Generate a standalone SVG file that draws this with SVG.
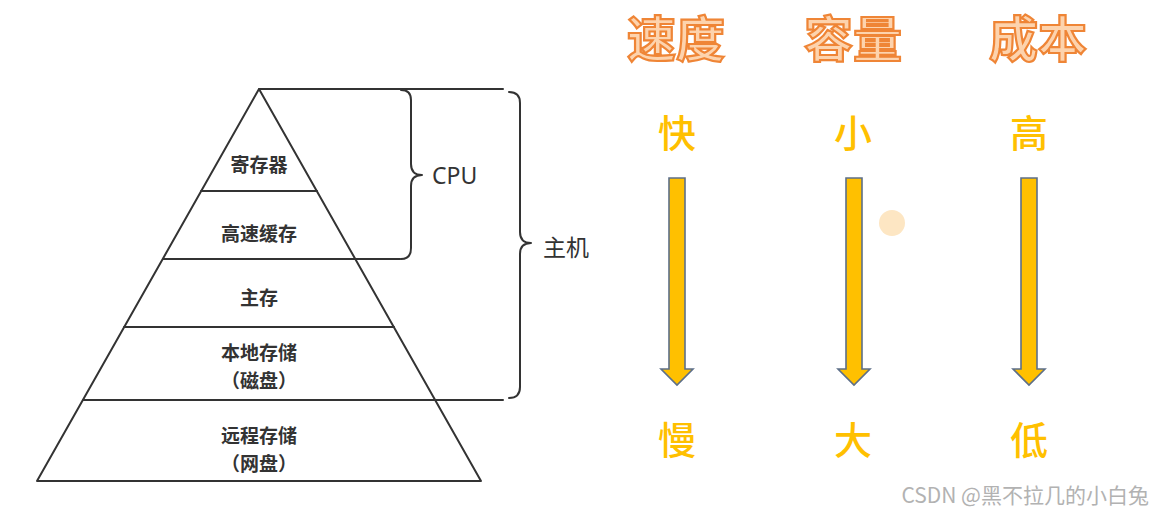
<svg xmlns="http://www.w3.org/2000/svg" width="1154" height="514" viewBox="0 0 1154 514">
<style>
.ln{stroke:#333;stroke-width:2;fill:none;stroke-linejoin:round;stroke-linecap:round}
.lbl{font-family:"Noto Sans CJK SC","Noto Sans",sans-serif;font-size:19px;font-weight:700;fill:#333;text-anchor:middle;dominant-baseline:central}
.side{font-family:"Noto Sans","Noto Sans CJK SC",sans-serif;font-size:23px;fill:#333;dominant-baseline:central}
.head{font-family:"Noto Sans CJK SC",sans-serif;font-size:49px;font-weight:700;fill:#fdd3ad;stroke:#ef8536;stroke-width:2.2;text-anchor:middle;dominant-baseline:central}
.val{font-family:"Noto Sans CJK SC",sans-serif;font-size:38px;font-weight:500;fill:#ffc000;text-anchor:middle;dominant-baseline:central}
.arr{fill:#ffc000;stroke:#5d6f88;stroke-width:1.6;stroke-linejoin:miter}
.wm{font-family:"Noto Sans CJK SC","Liberation Sans",sans-serif;font-size:21px;fill:#b2b2b2;text-anchor:end}
</style>
<rect width="1154" height="514" fill="#fff"/>
<g id="connectors">
<path class="ln" d="M259,89 L37,481 L481,481 Z"/>
<line class="ln" x1="259" y1="89" x2="503" y2="89"/>
<line class="ln" x1="201" y1="191" x2="317" y2="191"/>
<line class="ln" x1="163" y1="259" x2="400" y2="259"/>
<line class="ln" x1="124" y1="327" x2="394" y2="327"/>
<line class="ln" x1="83" y1="400" x2="503" y2="400"/>
<path class="ln" d="M401,90 Q411,90 411,100 L411,164 Q411,175 422,175 Q411,175 411,186 L411,248 Q411,259 401,259"/>
<path class="ln" d="M509,92 Q520,92 520,103 L520,232 Q520,243 531,243 Q520,243 520,254 L520,387 Q520,398 509,398"/>
</g>
<g id="n-reg"><text class="lbl" x="259" y="163">寄存器</text></g>
<g id="n-cache"><text class="lbl" x="259" y="232">高速缓存</text></g>
<g id="n-mem"><text class="lbl" x="259" y="296">主存</text></g>
<g id="n-local"><text class="lbl" x="259" y="351">本地存储</text><text class="lbl" x="259" y="379">（磁盘）</text></g>
<g id="n-remote"><text class="lbl" x="259" y="434">远程存储</text><text class="lbl" x="259" y="462">（网盘）</text></g>
<g id="n-cpu"><text class="side" x="432" y="175">CPU</text></g>
<g id="n-host"><text class="side" x="543" y="247">主机</text></g>
<g id="n-speed">
<text class="head" x="676" y="35">速度</text>
<text class="val" x="677" y="130">快</text>
<path class="arr" d="M669,178 L685,178 L685,369 L693,369 L677,385 L661,369 L669,369 Z"/>
<text class="val" x="677" y="437">慢</text>
</g>
<g id="n-capacity">
<text class="head" x="853" y="35">容量</text>
<text class="val" x="853" y="130">小</text>
<path class="arr" d="M846,178 L862,178 L862,369 L870,369 L854,385 L838,369 L846,369 Z"/>
<text class="val" x="853" y="437">大</text>
</g>
<g id="n-cost">
<text class="head" x="1038" y="35">成本</text>
<text class="val" x="1029" y="130">高</text>
<path class="arr" d="M1021,178 L1037,178 L1037,369 L1045,369 L1029,385 L1013,369 L1021,369 Z"/>
<text class="val" x="1029" y="437">低</text>
</g>
<circle cx="892" cy="223" r="13" fill="#fde6c3"/>
<text class="wm" x="1149" y="503">CSDN @黑不拉几的小白兔</text>
</svg>
